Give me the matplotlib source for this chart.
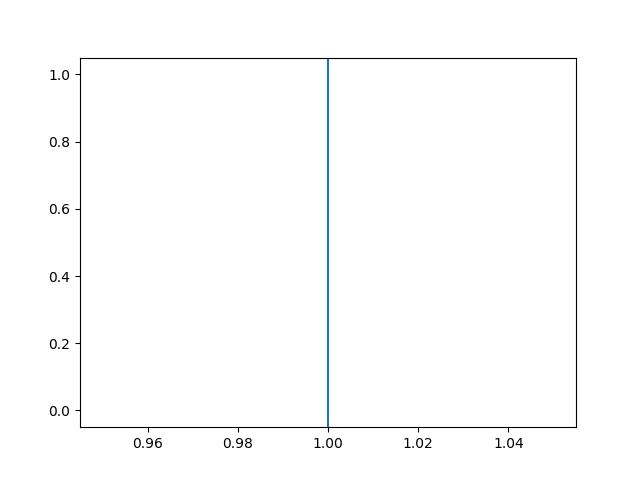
import matplotlib
matplotlib.use('Agg')
from matplotlib import pyplot as plt

line_x = [1.0, 1.0]
y_range = [-0.05, 1.05]

fig, ax = plt.subplots(figsize=(6.4, 4.8), dpi=100)
ax.plot(line_x, y_range)
ax.set_ylim(*y_range)
fig.savefig('out.png')
